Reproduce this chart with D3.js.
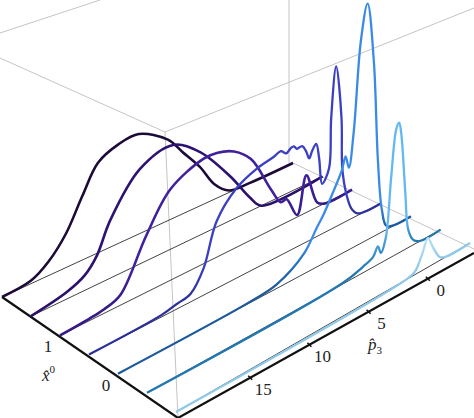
<!DOCTYPE html>
<html><head><meta charset="utf-8">
<script src="https://cdn.jsdelivr.net/npm/d3@7"></script>
<style>body{margin:0;background:#fff}</style>
</head><body><div id="chart"></div>
<script>
// x-hat^0 value of each slice (back to front)
var xhat = [2, 1.5, 1, 0.5, 0, -0.5, -1];
var colors = ["#1c0b38", "#2e1272", "#40209c", "#3b3fc2", "#3a8be6", "#62b8f2", "#b8e2f8"];
var baseColors = ["#1c0b38", "#2a1068", "#351a88", "#2a2f9a", "#1d5b9c", "#2277b0", "#8ec8ea"];

// slices: p3 positions and heights
var p0 = [21.1, 18.6, 17.1, 15.6, 14.2, 12.85, 11.1, 9.35, 6.85, 5.6, 4.1, 2.85, 1.6, -0.15, -3.9];
var z0 = [0, .03, .14, .34, .64, .90, .99, 1.0, .81, .62, .39, .15, .02, 0, 0];
var p1 = [21.1, 18.0, 16.5, 15.45, 14.3, 11.75, 8.9, 6.6, 4.0, 2.35, 1.35, -3.9];
var z1 = [0, .07, .15, .29, .58, .95, 1.03, .83, .44, .14, 0, 0];
var p2 = [21.1, 18.6, 17.35, 15.95, 13.7, 11.65, 8.8, 7.6, 6.2, 4.75, 3.05, 2.2, 1.7, 0.8, 0.0, -0.9, -1.5, -3.9];
var z2 = [0, .02, .04, .10, .57, .91, 1.05, 1.04, .97, .81, .41, .23, .23, .02, .37, .05, 0, 0];
var p3v = [21.1, 14.85, 13.63, 12.43, 11.3, 10.2, 8.48, 6.75, 5.3, 4.7, 4.25, 3.83, 3.58, 3.33, 2.88, 2.55, 2.28, 2.03, 1.68, 1.43, 1.18, 0.58, 0.4, -0.03, -0.48, -0.55, -0.9, -1.33, -1.85, -3.9];
var z3 = [0, .02, .05, .08, .27, .67, .90, .99, 1.02, 1.04, .99, 1.02, 1.02, .98, .98, .91, .82, .88, .93, .77, .50, .62, 1.11, 1.60, 1.06, .55, .27, .10, .02, 0];
var p4 = [21.1, 9.85, 7.58, 5.25, 4.15, 3.55, 2.7, 2.0, 1.68, 1.4, 0.98, 0.38, -0.2, -0.73, -1.08, -1.43, -1.85, -3.9];
var z4 = [0, .01, .04, .20, .39, .49, .67, .83, .95, .82, 1.16, 2.02, 2.36, 1.75, .73, .21, .03, 0];
var p5 = [21.1, 4.43, 2.71, 1.85, 1.43, 1.18, 0.75, 0.3, -0.13, -0.38, -0.55, -0.9, -1.15, -1.58, -2.18, -3.9];
var z5 = [0, .01, .06, .10, .18, .10, .23, .80, 1.25, 1.30, 1.19, .57, .18, .05, 0, 0];
var p6 = [21.1, 1.6, 0.78, 0.18, -0.33, -0.75, -1.35, -1.95, -3.9];
var z6 = [0, 0, .03, .16, .29, .17, .03, 0, 0];

var pSeries = [p0, p1, p2, p3v, p4, p5, p6];
var zSeries = [z0, z1, z2, z3, z4, z5, z6];
var pTicks = [0, 5, 10, 15];
var xTicks = [1, 0];

var W = 474, H = 418;
var FONT = "'Liberation Serif', 'DejaVu Serif', 'Times New Roman', serif";
var svg = d3.select("#chart").append("svg").attr("width", W).attr("height", H)
  .attr("font-family", FONT).attr("font-size", 17);
var defs = svg.append("defs");

// projection: slice index -> baseline start/end, p3 -> fraction along baseline, z -> up
var kScale = d3.scaleLinear().domain([2, -1]).range([0, 6]);
var tScale = d3.scaleLinear().domain([21.1, -3.9]).range([0, 1]);
var zScale = d3.scaleLinear().domain([0, 1]).range([0, 100]);
var sx = d3.scaleLinear().domain([0, 6]).range([2, 176]),
    sy = d3.scaleLinear().domain([0, 6]).range([297, 412]),
    ex = d3.scaleLinear().domain([0, 6]).range([293, 470]),
    ey = d3.scaleLinear().domain([0, 6]).range([163, 243]);

function project(xh, p, z) {
  var k = kScale(xh), t = tScale(p);
  var x0 = sx(k), y0 = sy(k), x1 = ex(k), y1 = ey(k);
  return [x0 + t * (x1 - x0), y0 + t * (y1 - y0) - zScale(z)];
}

// box
var grid = svg.append("g").attr("stroke", "#bdbdbd").attr("stroke-width", 0.9).attr("fill", "none");
var ft = project(-1, 21.1, 2.8); ft[0] -= 11;
var lineG = d3.line();
grid.append("path").attr("d", lineG([[178, 418], ft]));
grid.append("path").attr("d", lineG([[ex(0) - 4, ey(0)], [ex(0) - 4, 0]]));
grid.append("path").attr("d", lineG([ft, [0, 58]]));
grid.append("path").attr("d", lineG([ft, [474, 8]]));
grid.append("path").attr("d", lineG([[0, 33], [100, 0]]));
grid.append("path").attr("d", lineG([project(2, -3.9, 0), [474, 249]]));

// thin baselines
svg.append("g").selectAll("path").data(xhat).enter().append("path")
  .attr("d", function(d) { return lineG([project(d, 21.1, 0), project(d, -3.9, 0)]); })
  .attr("stroke", "#111").attr("stroke-width", 0.8).attr("fill", "none");

// axes
var ax = svg.append("g").attr("stroke", "#111").attr("stroke-width", 2.2).attr("fill", "none");
ax.append("path").attr("d", lineG([project(2, 21.1, 0), [178, 418]]));
ax.append("path").attr("d", lineG([[178, 418], [474, 253]]));

// curves
var line = d3.line().curve(d3.curveCatmullRom.alpha(0.5));
xhat.forEach(function(xh, i) {
  var pts = pSeries[i].map(function(p, j) { return project(xh, p, zSeries[i][j]); });
  var a = project(xh, 21.1, 0), b = project(xh, -3.9, 0);
  var dx = b[0] - a[0], dy = b[1] - a[1], L = Math.hypot(dx, dy);
  var nx = dy / L, ny = -dx / L; // upward normal
  if (ny > 0) { nx = -nx; ny = -ny; }
  var g = defs.append("linearGradient").attr("id", "g" + i).attr("gradientUnits", "userSpaceOnUse")
    .attr("x1", a[0]).attr("y1", a[1]).attr("x2", a[0] + nx * 25).attr("y2", a[1] + ny * 25);
  g.append("stop").attr("offset", 0.1).attr("stop-color", baseColors[i]);
  g.append("stop").attr("offset", 1).attr("stop-color", colors[i]);
  svg.append("path").attr("d", line(pts)).attr("fill", "none")
    .attr("stroke", "url(#g" + i + ")").attr("stroke-width", i < 3 ? 2.6 : 2.3).attr("stroke-linejoin", "round");
});

// ticks and labels
var axP = d3.scaleLinear().domain([21.1, -3.9]).range([0, 1]);
pTicks.forEach(function(v) {
  var t = axP(v), x = 178 + t * 296, y = 418 - t * 165;
  ax.append("path").attr("d", lineG([[x - 2, y - 2], [x + 2, y + 2]])).attr("stroke-width", 1.5);
  svg.append("text").attr("x", x + 13).attr("y", y + 17).attr("text-anchor", "middle").attr("fill", "#222").text(v);
});
xTicks.forEach(function(v) {
  var p = project(v, 21.1, 0);
  svg.append("text").attr("x", p[0] - 12).attr("y", p[1] + 17).attr("text-anchor", "middle").attr("fill", "#222").text(v);
});
svg.append("text").attr("x", 42).attr("y", 381).attr("fill", "#222")
  .html('<tspan font-style="italic">x̂</tspan><tspan font-size="11" dy="-8">0</tspan>');
svg.append("text").attr("x", 368).attr("y", 350).attr("fill", "#222")
  .html('<tspan font-style="italic">p̂</tspan><tspan font-size="11" dy="4">3</tspan>');
</script></body></html>
